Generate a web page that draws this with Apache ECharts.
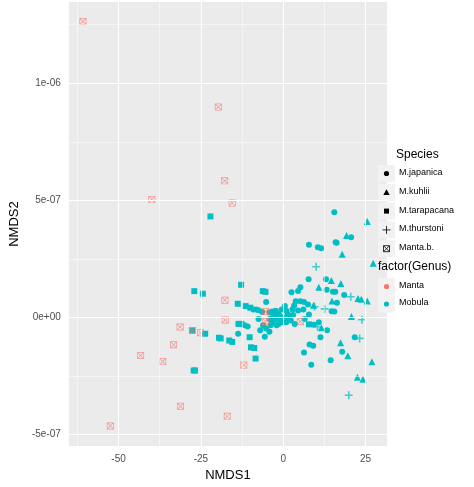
<!DOCTYPE html><html><head><meta charset="utf-8"><script src="https://cdn.jsdelivr.net/npm/echarts@6/dist/echarts.min.js"></script>
<style>html,body{margin:0;padding:0;background:#fff}#c{width:474px;height:487px}</style></head><body><div id="c"></div><script>
// y values in units of 1e-7
const mantaB=[[-60.8,12.64],[-19.7,8.98],[-17.8,5.83],[-39.9,5.03],[-15.5,4.88],[-17.7,0.73],[-5.4,0.25],[-17.6,-0.11],[-31.3,-0.41],[-5.4,-0.18],[5.2,-0.18],[-25.1,-0.66],[-27.6,-0.56],[-33.3,-1.17],[-43.3,-1.63],[-36.6,-1.89],[-12.0,-2.04],[-31.2,-3.80],[-17.0,-4.23],[-52.5,-4.64]];
const mTarapacana=[[-22.1,4.31],[-27.0,1.12],[-24.4,1.01],[-12.8,1.39],[-13.8,0.58],[-6.2,1.12],[-5.4,1.09],[-27.6,-0.56],[-23.7,-0.70],[-26.8,-2.27],[-27.2,-2.27],[-10.2,-0.85],[-9.8,-1.28],[-8.8,-1.31],[-8.4,-1.76],[-19.5,-0.87],[-19.0,-0.90],[-16.4,-0.99],[-15.5,-1.05],[-11.4,0.48],[-10.0,0.41],[-12.7,-0.28],[-13.6,-0.28],[7.8,-0.30]];
const mKuhlii=[[25.5,4.09],[19.2,3.50],[17.9,2.70],[27.3,2.31],[10.8,1.29],[14.6,1.57],[17.5,1.45],[22.7,0.81],[23.7,0.77],[25.5,0.70],[9.2,0.52],[14.8,0.70],[20.7,0.04],[11.6,-0.44],[17.4,-1.09],[19.6,-1.64],[26.9,-1.90],[22.5,-2.56],[24.2,-2.64]];
const mThurstoni=[[10.0,2.16],[20.5,0.88],[12.6,0.36],[23.9,-0.10],[23.2,-0.90],[10.4,-0.40],[19.9,-3.33],[9.5,0.45]];
const mJapanica=[[15.5,4.49],[7.8,3.10],[10.5,2.99],[11.5,2.95],[15.9,3.21],[16.2,3.19],[20.6,3.42],[7.7,1.63],[13.0,1.63],[13.2,1.18],[15.1,1.09],[15.8,1.09],[18.5,0.95],[5.2,1.29],[4.5,1.12],[2.5,1.07],[16.3,0.62],[14.7,0.26],[15.5,0.25],[7.8,0.12],[3.3,0.51],[3.8,0.69],[5.2,0.69],[6.3,0.65],[7.5,0.55],[-5.2,0.65],[0.5,0.48],[-0.5,0.34],[-2.3,0.28],[-3.3,0.25],[-4.2,0.21],[-1.4,0.14],[-2.8,0.0],[-4.2,-0.07],[-2.3,-0.07],[-0.9,-0.07],[1.4,0.14],[1.9,0.0],[2.3,-0.14],[0.9,-0.21],[-0.5,-0.21],[-1.4,-0.28],[-3.3,-0.21],[-5.2,-0.48],[-6.1,-0.34],[-7.0,-0.55],[-4.2,-0.62],[-7.5,-0.07],[-10.8,-0.39],[-11.7,-0.34],[-13.7,-0.70],[8.0,-1.16],[9.1,-1.21],[11.3,-0.85],[13.3,-0.55],[21.7,-0.85],[17.9,-1.47],[14.4,-1.83],[6.3,-1.50],[8.5,-2.02],[3.5,-0.28],[6.5,-0.07],[10.8,-0.21],[9.3,-0.32],[4.5,0.29],[-5.6,-0.83],[-8.2,0.34],[-9.1,0.34],[-7.5,0.30],[-6.4,0.23],[-3.8,-0.34],[-2.0,-0.34],[0,0],[0.9,0.28],[2.8,0.34],[6.1,0.34],[-1.0,0.05],[1.0,-0.05],[-3.0,0.1],[3.0,0.1]];
const xMajor=[-50,-25,0,25], xMinor=[-62.5,-37.5,-12.5,12.5];
const yMajor=[-5,0,5,10], yMinor=[-2.5,2.5,7.5,12.5];
const yLabels={'-5':'-5e-07','0':'0e+00','5':'5e-07','10':'1e-06'};
const RED='#F8766D', TEAL='#00BFC4';
const plusPath='path://M4,0H6V4H10V6H6V10H4V6H0V4H4Z';
const sqxPath='path://M0,0H10V10H0ZM1,1V9H9V1ZM1.6,0.9L5,4.3L8.4,0.9L9.1,1.6L5.7,5L9.1,8.4L8.4,9.1L5,5.7L1.6,9.1L0.9,8.4L4.3,5L0.9,1.6Z';
const ch=echarts.init(document.getElementById('c'));
const gl=(vals,axis,w)=>vals.map(v=>({[axis]:v,lineStyle:{color:'#fff',width:w,type:'solid'}}));
const sc=(name,data,sym,col,size,op)=>({type:'scatter',name,data,symbol:sym,symbolSize:size,itemStyle:{color:col,opacity:op},z:3,silent:true});
const F='Liberation Sans';
const g=[];
g.push({type:'text',x:396,y:149,style:{text:'Species',fontSize:12,fill:'#000',fontFamily:F}});
const sp=[['M.japanica','circle'],['M.kuhlii','triangle'],['M.tarapacana','rect'],['M.thurstoni','plus'],['Manta.b.','sqx']];
const ln=(x1,y1,x2,y2)=>({type:'line',shape:{x1,y1,x2,y2},style:{stroke:'#000',lineWidth:0.8}});
sp.forEach((s,i)=>{const cy=174+i*18.8;
 g.push({type:'rect',shape:{x:378,y:cy-9,width:17,height:17},style:{fill:'#F2F2F2'}});
 if(s[1]==='circle')g.push({type:'circle',shape:{cx:386.5,cy:cy-0.5,r:2.6},style:{fill:'#000'}});
 else if(s[1]==='triangle')g.push({type:'polygon',shape:{points:[[386.5,cy-3.5],[383.3,cy+2.3],[389.7,cy+2.3]]},style:{fill:'#000'}});
 else if(s[1]==='rect')g.push({type:'rect',shape:{x:384,y:cy-3,width:5,height:5},style:{fill:'#000'}});
 else if(s[1]==='plus'){g.push(ln(382.5,cy-0.5,390.5,cy-0.5));g.push(ln(386.5,cy-4.5,386.5,cy+3.5));}
 else{g.push({type:'rect',shape:{x:383.5,y:cy-3.5,width:6,height:6},style:{fill:'none',stroke:'#000',lineWidth:0.8}});
  g.push(ln(383.5,cy-3.5,389.5,cy+2.5));g.push(ln(389.5,cy-3.5,383.5,cy+2.5));}
 g.push({type:'text',x:399,y:cy-6,style:{text:s[0],fontSize:9,fill:'#000',fontFamily:F}});
});
g.push({type:'text',x:378,y:261,style:{text:'factor(Genus)',fontSize:12,fill:'#000',fontFamily:F}});
[['Manta',RED],['Mobula',TEAL]].forEach((s,i)=>{const cy=286+i*17.5;
 g.push({type:'rect',shape:{x:378,y:cy-8,width:17,height:17},style:{fill:'#F2F2F2'}});
 g.push({type:'circle',shape:{cx:386.5,cy:cy+0.5,r:2.6},style:{fill:s[1]}});
 g.push({type:'text',x:399,y:cy-5,style:{text:s[0],fontSize:9,fill:'#000',fontFamily:F}});
});
ch.setOption({animation:false,
grid:{left:44,right:87,top:2,bottom:26,show:true,backgroundColor:'#EBEBEB',borderWidth:0},
xAxis:{type:'value',min:-65.1,max:31.5,splitLine:{show:false},axisLine:{show:false},
 axisTick:{show:true,customValues:xMajor,lineStyle:{color:'#333'},length:3},
 axisLabel:{customValues:xMajor,color:'#4D4D4D',fontSize:10,fontFamily:F},
 name:'NMDS1',nameLocation:'middle',nameGap:17,nameTextStyle:{fontSize:13,color:'#000',fontFamily:F}},
yAxis:{type:'value',min:-5.5,max:13.47,splitLine:{show:false},axisLine:{show:false},
 axisTick:{show:true,customValues:yMajor,lineStyle:{color:'#333'},length:3},
 axisLabel:{customValues:yMajor,formatter:v=>yLabels[String(v)]||'',color:'#4D4D4D',fontSize:10,fontFamily:F},
 name:'NMDS2',nameLocation:'middle',nameGap:32,nameTextStyle:{fontSize:13,color:'#000',fontFamily:F}},
series:[
 {type:'scatter',data:[],silent:true,markLine:{silent:true,symbol:'none',label:{show:false},animation:false,
  data:[...gl(xMinor,'xAxis',0.5),...gl(yMinor,'yAxis',0.5),...gl(xMajor,'xAxis',1.1),...gl(yMajor,'yAxis',1.1)]}},
 sc('M.japanica',mJapanica,'circle',TEAL,6,1),
 sc('M.kuhlii',mKuhlii,'triangle',TEAL,7,1),
 sc('M.tarapacana',mTarapacana,'rect',TEAL,6,1),
 sc('M.thurstoni',mThurstoni,plusPath,TEAL,8,0.7),
 sc('Manta.b.',mantaB,sqxPath,RED,7,0.75)
],
graphic:g
});
</script></body></html>
